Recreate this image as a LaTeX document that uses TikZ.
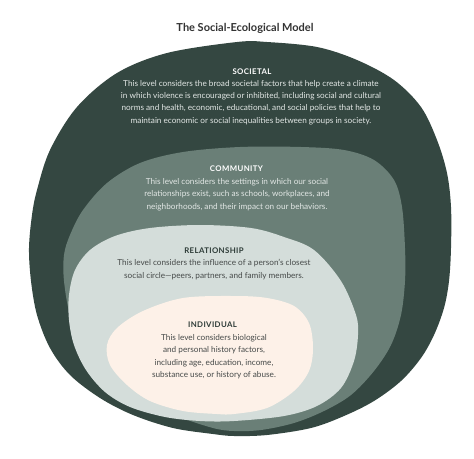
\documentclass[tikz,border=0pt]{standalone}
\usepackage{fontspec}
\setmainfont{Lato}
\newfontfamily\headfont[LetterSpace=5]{Lato}
\definecolor{sedark}{RGB}{52,71,65}
\definecolor{semid}{RGB}{106,127,119}
\definecolor{selight}{RGB}{212,221,218}
\definecolor{secream}{RGB}{253,241,232}
\definecolor{setitle}{RGB}{51,51,51}
\definecolor{selighttext}{RGB}{226,231,229}
\definecolor{sedarktext}{RGB}{70,74,73}
\definecolor{sehead}{RGB}{44,58,54}
\tikzset{
  layer/.style={draw=none},
  bodytxt/.style={align=center,inner sep=0pt,font=\fontsize{8.2}{12.4}\selectfont},
  headtxt/.style={inner sep=0pt,font=\headfont\bfseries\fontsize{7.8}{9}\selectfont},
}
\begin{document}
\begin{tikzpicture}[x=1pt,y=-1pt]
\useasboundingbox (0,0) rectangle (474,458);
\fill[white] (0,0) rectangle (474,458);
% societal
\fill[sedark,layer] plot[smooth cycle,tension=0.55] coordinates {
 (237,42) (267,42) (317,47) (357,60) (394,80) (421,107) (437,140) (447,173) (451,207)
 (451,248) (449,281) (444,308) (434,335) (421,358) (401,381) (374,401) (344,416) (311,428) (267,435)
 (234,436) (213,434) (173,428) (133,415) (100,398) (70,375) (50,348) (37,315) (31,281) (29,248)
 (32,215) (37,190) (50,150) (77,107) (117,73) (167,53) };
% community
\fill[semid,layer] plot[smooth cycle,tension=0.55] coordinates {
 (240,147) (301,147) (344,150) (374,160) (394,180) (402,207) (405,248) (405,281) (401,315) (391,345)
 (374,371) (351,395) (324,411) (294,423) (261,430) (234,431) (213,428) (177,416) (140,398) (107,375)
 (83,345) (70,315) (64,281) (64,255) (70,235) (83,210) (107,183) (140,163) (183,152) };
% relationship
\fill[selight,layer] plot[smooth cycle,tension=0.55] coordinates {
 (200,225) (251,228) (284,237) (314,250) (341,281) (356,315) (358,335) (354,361) (341,388) (317,406)
 (284,416) (234,421) (200,421) (165,417) (130,407) (105,392) (86,370) (74,345) (69,320) (69,295)
 (75,270) (90,250) (115,236) (150,228) };
% individual
\fill[secream,layer] plot[smooth cycle,tension=0.55] coordinates {
 (234,296) (267,298) (294,306) (309,323) (313,348) (309,371) (294,391) (267,408) (234,414)
 (217,414) (183,411) (150,401) (127,385) (110,365) (107,345) (117,328) (143,311) (183,298) };
% texts
\node[inner sep=0pt,font=\bfseries\fontsize{11}{12}\selectfont,text=setitle] (title) at (245,28) {The Social-Ecological Model};
\node[headtxt,text=white] (socH) at (252,72) {SOCIETAL};
\node[bodytxt,text=selighttext] (socB) at (251,102.5) {This level considers the broad societal factors that help create a climate\\
in which violence is encouraged or inhibited, including social and cultural\\
norms and health, economic, educational, and social policies that help to\\
maintain economic or social inequalities between groups in society.};
\node[headtxt,text=white] (comH) at (236.5,169) {COMMUNITY};
\node[bodytxt,text=selighttext] (comB) at (237,194.5) {This level considers the settings in which our social\\
relationships exist, such as schools, workplaces, and\\
neighborhoods, and their impact on our behaviors.};
\node[headtxt,text=sehead] (relH) at (214,251) {RELATIONSHIP};
\node[bodytxt,text=sedarktext] (relB) at (214,269.5) {This level considers the influence of a person’s closest\\
social circle—peers, partners, and family members.};
\node[headtxt,text=sehead] (indH) at (212.5,325) {INDIVIDUAL};
\node[bodytxt,text=sedarktext] (indB) at (214,356.5) {This level considers biological\\
and personal history factors,\\
including age, education, income,\\
substance use, or history of abuse.};
\end{tikzpicture}
\end{document}
